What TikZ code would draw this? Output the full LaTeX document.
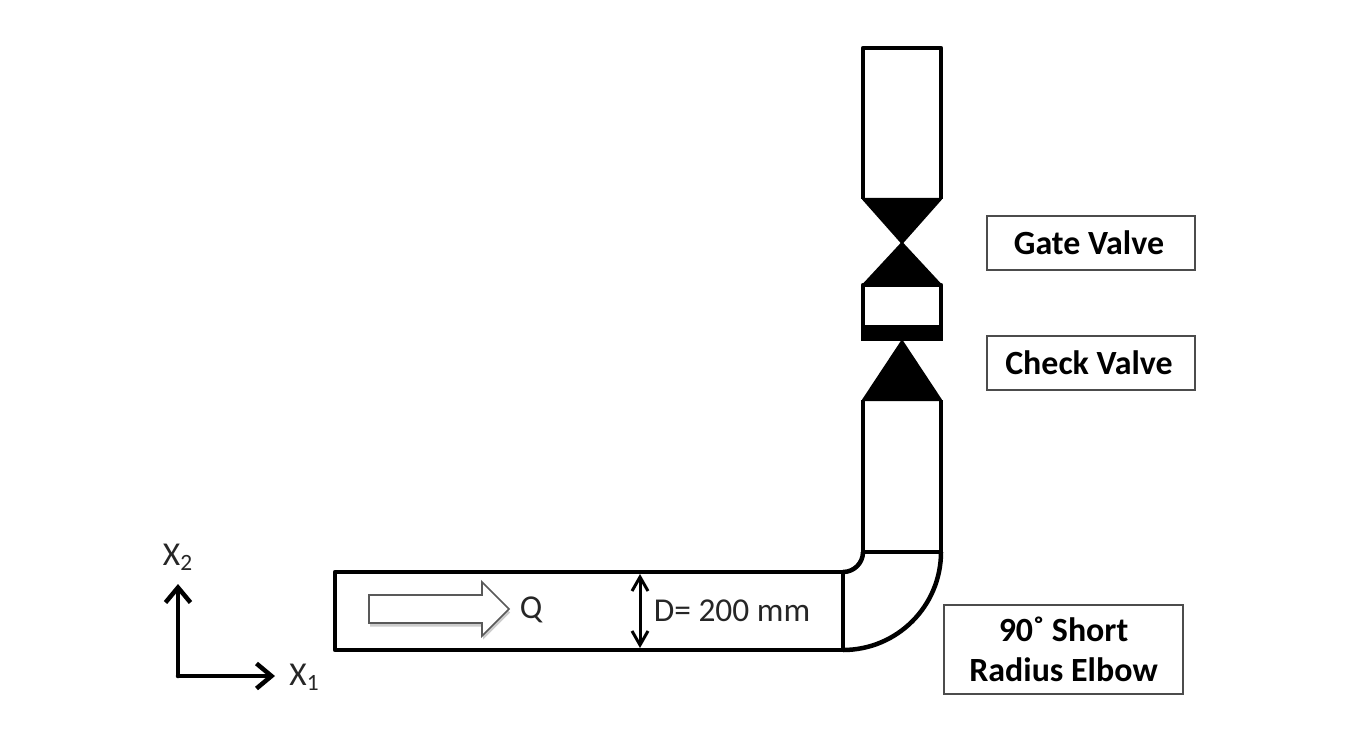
\documentclass[tikz,border=0pt]{standalone}
\usepackage{fontspec}
\setmainfont{Carlito}
\usetikzlibrary{arrows.meta,shadows}
\tikzset{
	pipeline/.style={line width=0.09cm, line join=round, color=black},
	valvefill/.style={fill=black, draw=black, line width=0.04cm, line join=round},
	axisline/.style={line width=0.09cm, line cap=round, color=black, -{Straight Barb[length=0.3cm,width=0.5cm,line width=0.09cm]}},
	dimline/.style={line width=0.06cm, color=black, {Straight Barb[length=0.28cm,width=0.32cm,line width=0.06cm]}-{Straight Barb[length=0.28cm,width=0.32cm,line width=0.06cm]}},
	flowarrow/.style={draw=black!65, line width=0.035cm, fill=white, line join=miter, drop shadow={shadow xshift=0.02cm, shadow yshift=-0.07cm, opacity=0.4}},
	labelbox/.style={draw=black!70, line width=0.035cm, fill=white, align=center, font=\fontsize{19.3}{22.7}\selectfont\bfseries, text=black, inner sep=0pt},
	plaintext/.style={font=\fontsize{19}{22}\selectfont, text=black!85, inner sep=0pt}
}

\begin{document}
\begin{tikzpicture}
	%%%%% START %%%%%
	\useasboundingbox (0, 0) rectangle (27.28, 14.74);

	% upper pipe
	\draw[pipeline] (17.26, 10.76) -- (17.26, 13.78) -- (18.82, 13.78) -- (18.82, 10.76);

	% gate valve
	\draw[valvefill] (17.26, 10.76) -- (18.82, 10.76) -- (18.04, 9.88) -- cycle;
	\draw[valvefill] (17.26, 9.04) -- (18.82, 9.04) -- (18.04, 9.88) -- cycle;

	% piece between the valves
	\draw[pipeline] (17.26, 8.08) rectangle (18.82, 9.04);
	\fill[black] (17.215, 7.92) rectangle (18.865, 8.24);

	% check valve
	\draw[valvefill] (18.04, 7.92) -- (17.26, 6.74) -- (18.82, 6.74) -- cycle;

	% lower pipe
	\draw[pipeline] (17.26, 3.70) -- (17.26, 6.74);
	\draw[pipeline] (18.82, 3.70) -- (18.82, 6.74);
	\draw[pipeline] (17.26, 3.70) -- (18.82, 3.70);

	% elbow
	\draw[pipeline] (17.26, 3.70) arc (0:-90:0.4);
	\draw[pipeline] (18.82, 3.70) arc (0:-90:1.96);

	% horizontal pipe
	\draw[pipeline] (16.86, 3.30) -- (6.70, 3.30) -- (6.70, 1.74) -- (16.86, 1.74) -- cycle;

	% flow arrow
	\draw[flowarrow] (7.38, 2.84) -- (9.64, 2.84) -- (9.64, 3.10) -- (10.18, 2.56) -- (9.64, 2.02) -- (9.64, 2.28) -- (7.38, 2.28) -- cycle;
	\node[plaintext] (flowlabel) at (10.62, 2.54) {Q};

	% pipe diameter
	\coordinate (dimtop) at (12.80, 3.26);
	\coordinate (dimbottom) at (12.80, 1.78);
	\draw[dimline] (dimbottom) -- (dimtop);
	\node[plaintext] (dimlabel) at (14.64, 2.52) {D= 200 mm};

	% axes
	\coordinate (origin) at (3.56, 1.22);
	\coordinate (xone) at (5.50, 1.22);
	\coordinate (xtwo) at (3.56, 3.06);
	\draw[axisline] (origin) -- (xone);
	\draw[axisline] (origin) -- (xtwo);
	\node[plaintext] (xonelabel) at (6.09, 1.20) {X\textsubscript{1}};
	\node[plaintext] (xtwolabel) at (3.56, 3.60) {X\textsubscript{2}};

	% labels
	\node[labelbox, minimum width=4.16cm, minimum height=1.08cm] (gatelabel) at (21.82, 9.88) {Gate Valve\hspace*{0.08cm}};
	\node[labelbox, minimum width=4.16cm, minimum height=1.08cm] (checklabel) at (21.82, 7.48) {Check Valve\hspace*{0.08cm}};
	\node[labelbox, minimum width=4.78cm, minimum height=1.78cm] (elbowlabel) at (21.27, 1.75) {90˚ Short\\Radius Elbow};
	%%%%% END %%%%%
\end{tikzpicture}
\end{document}
